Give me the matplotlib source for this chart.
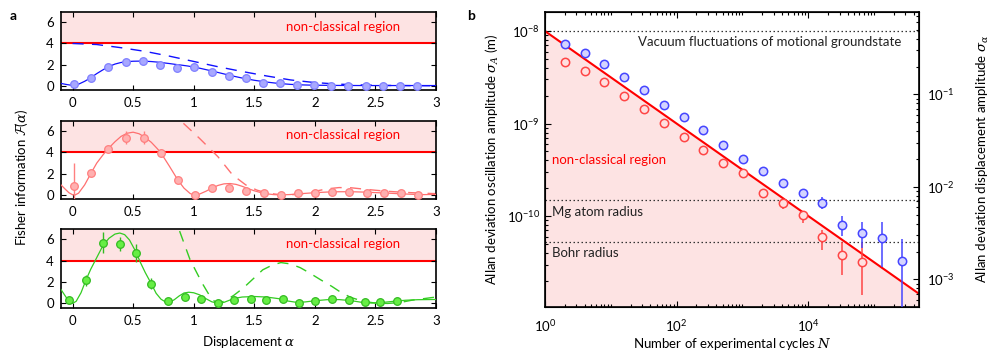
import matplotlib
matplotlib.use("Agg")
import matplotlib.pyplot as plt
import numpy as np
from matplotlib.ticker import LogLocator, NullFormatter, FixedLocator

plt.rcParams['font.family'] = ['Lato', 'DejaVu Sans']
plt.rcParams['font.size'] = 9.5
plt.rcParams['mathtext.fontset'] = 'custom'
plt.rcParams['mathtext.rm'] = 'Lato'
plt.rcParams['mathtext.it'] = 'DejaVu Serif:italic'
plt.rcParams['mathtext.cal'] = 'cmsy10'

# ---------------- panel a data ----------------
blue_x = [0.01, 0.155, 0.29, 0.44, 0.58, 0.72, 0.86, 1.0, 1.15, 1.29, 1.43,
          1.57, 1.71, 1.85, 1.99, 2.13, 2.27, 2.42, 2.56, 2.70, 2.84]
blue_y = [0.16, 0.7, 1.8, 2.24, 2.34, 1.99, 1.64, 1.8, 1.3, 0.95, 0.76,
          0.28, 0.28, 0.1, 0.1, 0.0, 0.0, 0.0, 0.0, 0.0, 0.0]
blue_err = [0.3, 0.15, 0.15, 0.15, 0.15, 0.15, 0.15, 0.15, 0.1, 0.1, 0.1,
            0.1, 0.1, 0.1, 0.15, 0.1, 0.1, 0.1, 0.1, 0.1, 0.1]
blue_fit_x = [-0.095, -0.05, 0.0, 0.05, 0.1, 0.15, 0.2, 0.25, 0.3, 0.35, 0.4, 0.45,
              0.5, 0.55, 0.6, 0.65, 0.7, 0.75, 0.8, 0.85, 0.9, 0.95, 1.0, 1.05,
              1.1, 1.15, 1.2, 1.3, 1.4, 1.5, 1.6, 1.7, 1.8, 1.9, 2.0, 2.2, 2.4,
              2.6, 2.8, 3.0]
blue_fit_y = [0.22, 0.12, 0.03, 0.15, 0.42, 0.75, 1.15, 1.5, 1.82, 2.05, 2.2, 2.28,
              2.32, 2.33, 2.32, 2.29, 2.24, 2.17, 2.1, 2.02, 1.95, 1.87, 1.77, 1.66,
              1.53, 1.4, 1.26, 0.98, 0.73, 0.52, 0.35, 0.22, 0.13, 0.08, 0.05, 0.03,
              0.02, 0.02, 0.02, 0.02]
blue_ideal_x = [0.0, 0.2, 0.4, 0.6, 0.8, 1.0, 1.2, 1.4, 1.6, 1.8, 2.0, 2.2, 2.4,
                2.6, 2.8, 3.0]
blue_ideal_y = [4.0, 3.9, 3.6, 3.25, 2.8, 2.3, 1.8, 1.35, 0.93, 0.55, 0.3, 0.15,
                0.07, 0.03, 0.01, 0.0]

red_x = [0.01, 0.155, 0.29, 0.44, 0.59, 0.73, 0.87, 1.01, 1.15, 1.29, 1.43,
         1.58, 1.72, 1.86, 2.0, 2.14, 2.28, 2.43, 2.57, 2.71, 2.85]
red_y = [0.85, 2.1, 4.34, 5.4, 5.4, 3.93, 1.41, 0.0, 0.69, 0.69, 0.38,
         0.22, 0.0, 0.15, 0.22, 0.31, 0.31, 0.22, 0.22, 0.15, 0.0]
red_err = [2.15, 0.2, 0.4, 0.65, 0.65, 0.4, 0.15, 0.1, 0.1, 0.1, 0.1,
           0.1, 0.1, 0.1, 0.1, 0.1, 0.1, 0.1, 0.1, 0.1, 0.1]
red_fit_x = [-0.095, -0.06, -0.03, 0.0, 0.02, 0.05, 0.1, 0.155, 0.2, 0.25, 0.29,
             0.35, 0.4, 0.45, 0.5, 0.55, 0.6, 0.65, 0.7, 0.73, 0.8, 0.87, 0.92,
             0.97, 1.0, 1.05, 1.1, 1.15, 1.2, 1.25, 1.3, 1.35, 1.4, 1.45, 1.5,
             1.55, 1.6, 1.66, 1.72, 1.8, 1.9, 2.0, 2.1, 2.2, 2.3, 2.4, 2.5, 2.6,
             2.7, 2.8, 2.9, 3.0]
red_fit_y = [0.95, 0.55, 0.22, 0.03, 0.0, 0.18, 0.95, 2.1, 3.0, 3.75, 4.3,
             5.0, 5.5, 5.8, 5.9, 5.75, 5.4, 4.95, 4.35, 3.95, 2.7, 1.4, 0.65,
             0.15, 0.0, 0.1, 0.35, 0.65, 0.9, 1.05, 1.08, 1.0, 0.82, 0.6, 0.4,
             0.24, 0.12, 0.04, 0.01, 0.05, 0.14, 0.22, 0.28, 0.31, 0.31, 0.28, 0.23,
             0.18, 0.12, 0.07, 0.04, 0.06]
red_ideal_x = [0.8, 0.89, 1.05, 1.2, 1.32, 1.43, 1.52, 1.6, 1.7, 1.8, 1.9, 2.0,
               2.1, 2.2, 2.3, 2.4, 2.5, 2.6, 2.7, 2.8, 2.9, 3.0]
red_ideal_y = [8.0, 7.0, 5.3, 3.6, 1.9, 0.95, 0.47, 0.2, 0.05, 0.02, 0.12, 0.35,
               0.58, 0.7, 0.68, 0.56, 0.45, 0.35, 0.28, 0.22, 0.17, 0.13]

green_x = [-0.025, 0.11, 0.25, 0.39, 0.52, 0.65, 0.79, 0.93, 1.06, 1.20, 1.33,
           1.47, 1.60, 1.74, 1.87, 2.0, 2.14, 2.28, 2.41, 2.54, 2.68]
green_y = [0.3, 2.17, 5.7, 5.55, 4.7, 1.85, 0.19, 0.62, 0.37, 0.06, 0.28,
           0.46, 0.3, 0.37, 0.03, 0.25, 0.37, 0.31, 0.09, 0.09, 0.19]
green_err = [0.15, 0.5, 1.0, 0.65, 0.85, 0.5, 0.1, 0.3, 0.1, 0.1, 0.1,
             0.1, 0.1, 0.1, 0.1, 0.1, 0.1, 0.1, 0.1, 0.1, 0.1]
green_fit_x = [-0.095, -0.06, -0.03, 0.0, 0.03, 0.07, 0.11, 0.15, 0.2, 0.25, 0.3,
               0.35, 0.39, 0.43, 0.47, 0.52, 0.56, 0.6, 0.65, 0.69, 0.73, 0.77,
               0.8, 0.84, 0.88, 0.92, 0.96, 1.0, 1.05, 1.1, 1.15, 1.2, 1.25, 1.3,
               1.35, 1.4, 1.5, 1.6, 1.7, 1.78, 1.85, 1.92, 2.0, 2.1, 2.2, 2.3,
               2.4, 2.47, 2.55, 2.65, 2.75, 2.85, 3.0]
green_fit_y = [1.3, 0.7, 0.2, 0.0, 0.2, 1.0, 2.17, 3.2, 4.3, 5.4, 6.1,
               6.5, 6.6, 6.45, 5.95, 4.9, 3.85, 2.9, 1.85, 0.95, 0.4, 0.12,
               0.1, 0.35, 0.7, 0.98, 1.05, 1.0, 0.8, 0.45, 0.15, 0.02, 0.1, 0.32,
               0.5, 0.6, 0.65, 0.6, 0.45, 0.22, 0.1, 0.14, 0.25, 0.35, 0.36, 0.26,
               0.08, 0.04, 0.08, 0.2, 0.3, 0.35, 0.37]
green_ideal_x = [0.83, 0.88, 0.97, 1.07, 1.15, 1.2, 1.25, 1.33, 1.41, 1.5, 1.57,
                 1.65, 1.72, 1.8, 1.88, 1.95, 2.05, 2.14, 2.22, 2.3, 2.4, 2.5,
                 2.6, 2.7, 2.8, 2.9, 3.0]
green_ideal_y = [8.5, 6.9, 4.1, 1.9, 0.37, 0.02, 0.2, 0.75, 1.45, 2.4, 3.15,
                 3.6, 3.83, 3.7, 3.35, 2.9, 2.2, 1.6, 1.0, 0.55, 0.2, 0.03,
                 0.0, 0.08, 0.3, 0.45, 0.6]

# ---------------- panel b data ----------------
blue_N = [2, 4, 8, 16, 32, 64, 128, 256, 512, 1024, 2048, 4096, 8192,
          16384, 32768, 65536, 131072, 262144]
blue_sigma = [7.3e-9, 5.8e-9, 4.4e-9, 3.2e-9, 2.3e-9, 1.6e-9, 1.18e-9, 8.6e-10,
              5.9e-10, 4.1e-10, 3.1e-10, 2.3e-10, 1.76e-10, 1.38e-10, 8.1e-11,
              6.5e-11, 5.8e-11, 3.3e-11]
blue_hi = [7.3e-9, 5.8e-9, 4.4e-9, 3.2e-9, 2.3e-9, 1.6e-9, 1.18e-9, 8.6e-10,
           5.9e-10, 4.1e-10, 3.1e-10, 2.45e-10, 1.96e-10, 1.6e-10, 1.0e-10,
           8.6e-11, 8.6e-11, 5.6e-11]
blue_lo = [7.3e-9, 5.8e-9, 4.4e-9, 3.2e-9, 2.3e-9, 1.6e-9, 1.18e-9, 8.6e-10,
           5.9e-10, 4.1e-10, 3.1e-10, 2.15e-10, 1.6e-10, 1.19e-10, 6.1e-11,
           4.5e-11, 2.8e-11, 8e-12]
red_N = [2, 4, 8, 16, 32, 64, 128, 256, 512, 1024, 2048, 4096, 8192,
         16384, 32768, 65536]
red_sigma = [4.6e-9, 3.7e-9, 2.8e-9, 2.0e-9, 1.43e-9, 1.02e-9, 7.2e-10, 5.2e-10,
             3.8e-10, 2.9e-10, 1.8e-10, 1.37e-10, 1.03e-10, 5.9e-11, 3.8e-11, 3.2e-11]
red_hi = [4.6e-9, 3.7e-9, 2.8e-9, 2.0e-9, 1.43e-9, 1.02e-9, 7.2e-10, 5.2e-10,
          3.8e-10, 2.9e-10, 1.8e-10, 1.53e-10, 1.10e-10, 7.1e-11, 5.2e-11, 5.1e-11]
red_lo = [4.6e-9, 3.7e-9, 2.8e-9, 2.0e-9, 1.43e-9, 1.02e-9, 7.2e-10, 5.2e-10,
          3.8e-10, 2.9e-10, 1.8e-10, 1.19e-10, 8.4e-11, 4.3e-11, 2.3e-11, 1.4e-11]
sql_N = [1, 4.8e5]
sql_sigma = [1e-8, 1.45e-11]
ref_levels = [1e-8, 1.5e-10, 5.29e-11]
ref_names = ['Vacuum fluctuations of motional groundstate', 'Mg atom radius', 'Bohr radius']
groundstate_width = 2.07e-8  # sigma_A per unit of alpha

pink = '#fde3e3'
red = '#ff0000'
fs = 9.5

fig = plt.figure(figsize=(9.97, 3.54), dpi=100)

panels = [
    (blue_x, blue_y, blue_err, blue_fit_x, blue_fit_y, blue_ideal_x, blue_ideal_y,
     '#1010ff', '#8080ff', '#a8a8ff'),
    (red_x, red_y, red_err, red_fit_x, red_fit_y, red_ideal_x, red_ideal_y,
     '#ff7070', '#ff8080', '#ffb0b0'),
    (green_x, green_y, green_err, green_fit_x, green_fit_y, green_ideal_x, green_ideal_y,
     '#33cc22', '#33bb22', '#66ee44'),
]
bottoms = [0.7458, 0.437, 0.1308]
heights = [0.2195, 0.2212, 0.2215]

for (px, py, pe, fx, fy, ix, iy, lc, ec, fc), b, h in zip(panels, bottoms, heights):
    ax = fig.add_axes([0.0612, b, 0.3761, h])
    ax.axhspan(4, 10, color=pink, lw=0, zorder=0)
    ax.axhline(4, color=red, lw=1.5, zorder=1)
    ax.plot(ix, iy, color=lc, lw=1.0, dashes=(8, 6), zorder=2)
    ax.plot(fx, fy, color=lc, lw=0.9, zorder=3)
    ax.errorbar(px, py, yerr=pe, fmt='o', ms=5.5, mfc=fc, mec=ec, mew=0.9,
                ecolor=ec, elinewidth=1.0, capsize=0, zorder=4)
    ax.text(2.23, 5.6, 'non-classical region', color=red, ha='center', va='center',
            fontsize=fs)
    ax.set_xlim(-0.095, 3.0)
    ax.set_ylim(-0.4, 6.95)
    ax.set_xticks([0, 0.5, 1, 1.5, 2, 2.5, 3])
    ax.set_xticklabels(['0', '0.5', '1', '1.5', '2', '2.5', '3'])
    ax.set_yticks([0, 2, 4, 6])
    ax.tick_params(direction='in', top=True, right=True, length=3.5, width=0.8,
                   labelsize=fs, pad=5)
    for s in ax.spines.values():
        s.set_linewidth(1.2)
    if b < 0.2:
        ax.set_xlabel(r'Displacement $\alpha$', fontsize=fs, labelpad=5)

fig.text(0.022, 0.5, r'Fisher information $\mathcal{F}(\alpha)$', rotation=90,
         ha='center', va='center', fontsize=fs)
fig.text(0.013, 0.955, 'a', fontweight='bold', fontsize=10, ha='center', va='center')
fig.text(0.472, 0.955, 'b', fontweight='bold', fontsize=10, ha='center', va='center')

# ---------------- panel b ----------------
axb = fig.add_axes([0.5466, 0.1336, 0.3751, 0.8333])
axb.set_xscale('log')
axb.set_yscale('log')
ylo, yhi = 1.05e-11, 1.62e-8
axb.fill_between(sql_N, sql_sigma, 1e-13, color=pink, lw=0, zorder=0)
axb.plot(sql_N, sql_sigma, color=red, lw=1.5, zorder=2)
for lev in ref_levels:
    axb.axhline(lev, color='#333333', lw=0.9, ls=(0, (1.2, 2.0)), zorder=1)
axb.text(2.6e5, 7.6e-9, ref_names[0], ha='right', va='center', color='#222222',
         fontsize=fs)
axb.text(1.3, 1.12e-10, ref_names[1], ha='left', va='center', color='#222222',
         fontsize=fs)
axb.text(1.3, 4.0e-11, ref_names[2], ha='left', va='center', color='#222222',
         fontsize=fs)
axb.text(1.3, 4.0e-10, 'non-classical region', ha='left', va='center', color=red,
         fontsize=fs)

axb.errorbar(blue_N, blue_sigma,
             yerr=[np.subtract(blue_sigma, blue_lo), np.subtract(blue_hi, blue_sigma)],
             fmt='o', ms=6, mfc='#d4d4ff', mec='#4545ff', mew=1.1,
             ecolor='#4545ff', elinewidth=1.1, capsize=0, zorder=4)
axb.errorbar(red_N, red_sigma,
             yerr=[np.subtract(red_sigma, red_lo), np.subtract(red_hi, red_sigma)],
             fmt='o', ms=6, mfc='#ffe0e0', mec='#ff4545', mew=1.1,
             ecolor='#ff4545', elinewidth=1.1, capsize=0, zorder=3)

axb.set_xlim(1, 4.8e5)
axb.set_ylim(ylo, yhi)
axb.xaxis.set_major_locator(FixedLocator([1, 1e2, 1e4]))
axb.xaxis.set_minor_locator(LogLocator(base=10, subs=np.arange(1, 10), numticks=20))
axb.xaxis.set_minor_formatter(NullFormatter())
axb.yaxis.set_minor_locator(LogLocator(base=10, subs=np.arange(2, 10), numticks=20))
axb.yaxis.set_minor_formatter(NullFormatter())
axb.tick_params(which='both', direction='in', top=True, right=False, width=0.8,
                labelsize=fs)
axb.tick_params(axis='x', which='major', pad=8)
axb.tick_params(which='major', length=4)
axb.tick_params(which='minor', length=2.2)
for s in axb.spines.values():
    s.set_linewidth(1.2)
axb.set_xlabel(r'Number of experimental cycles $N$', fontsize=fs, labelpad=2)
axb.set_ylabel(r'Allan deviation oscillation amplitude $\sigma_A$ (m)', fontsize=fs,
               labelpad=4)

ax2 = axb.twinx()
ax2.set_yscale('log')
ax2.set_ylim(ylo / groundstate_width, yhi / groundstate_width)
ax2.yaxis.set_minor_locator(LogLocator(base=10, subs=np.arange(2, 10), numticks=20))
ax2.yaxis.set_minor_formatter(NullFormatter())
ax2.tick_params(which='both', direction='in', width=0.8, labelsize=fs)
ax2.tick_params(which='major', length=4, pad=6)
ax2.tick_params(which='minor', length=2.2)
ax2.set_ylabel(r'Allan deviation displacement amplitude $\sigma_\alpha$', fontsize=fs,
               labelpad=14)

fig.savefig('out.png', dpi=100)
